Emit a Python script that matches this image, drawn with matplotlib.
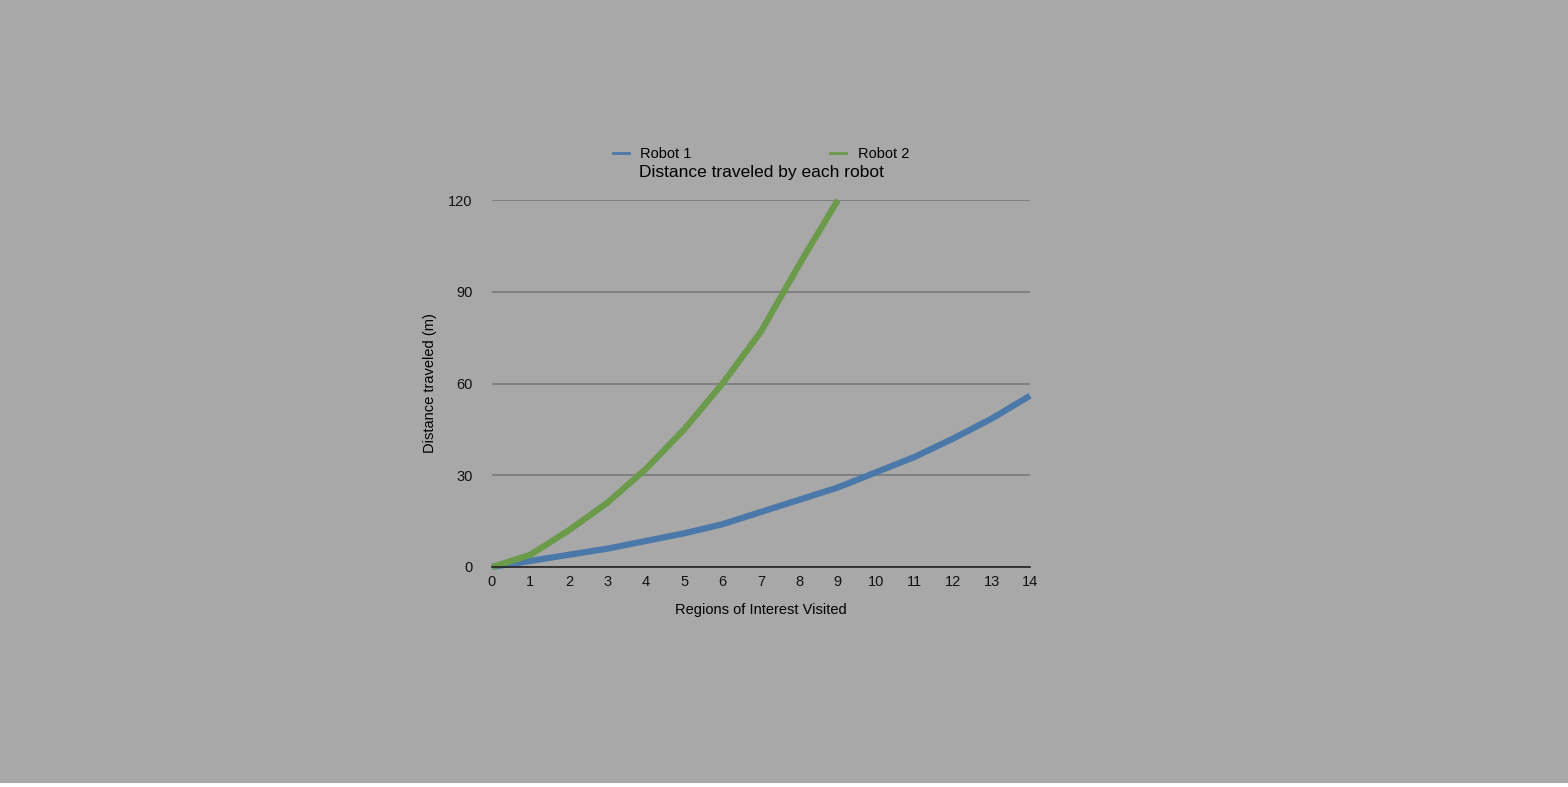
import matplotlib
matplotlib.use("Agg")
import matplotlib.pyplot as plt
from matplotlib.lines import Line2D

plt.rcParams["font.family"] = "Liberation Sans"

x1 = list(range(15))
robot1 = [0, 2, 4, 6, 8.5, 11, 14, 18, 22, 26, 31, 36, 42, 48.5, 56]
x2 = list(range(10))
robot2 = [0, 4, 12, 21, 32, 45, 60, 77, 99, 120]
yticks = [0, 30, 60, 90, 120]

W, H = 1568, 787
fig = plt.figure(figsize=(W/100, H/100), dpi=100)
fig.patch.set_facecolor("white")
bg = fig.add_axes([0, 4/H, 1, 1-4/H])
bg.set_facecolor("#a8a8a8"); bg.set_xticks([]); bg.set_yticks([])
for s in bg.spines.values(): s.set_visible(False)

ax = fig.add_axes([492/W, 1-567/H, (1030-492)/W, (567-200)/H])
ax.set_facecolor("none")
ax.set_xlim(0, 14); ax.set_ylim(0, 120)
ax.set_xticks(range(15)); ax.set_yticks(yticks)
ax.yaxis.grid(True, color="#7a7a7a", lw=1.2)
ax.set_axisbelow(True)
for s in ["top", "right", "left"]: ax.spines[s].set_visible(False)
ax.spines["bottom"].set_color("#222222"); ax.spines["bottom"].set_linewidth(1.2)
ax.tick_params(length=0, labelsize=10.5, colors="#111111")
ax.tick_params(axis="x", pad=6)
ax.tick_params(axis="y", pad=14)
ax.plot(x1, robot1, color="#4a78a8", lw=4.5, solid_capstyle="butt", clip_on=False)
ax.plot(x2, robot2, color="#6a9a4a", lw=4.5, solid_capstyle="butt", clip_on=False)
ax.set_xlabel("Regions of Interest Visited", fontsize=10.5, labelpad=10)
ax.set_ylabel("Distance traveled (m)", fontsize=10.5, labelpad=8)
fig.text(761/W, 1-173/H, "Distance traveled by each robot", fontsize=12.5, ha="center", va="center")
handles = [Line2D([], [], color="#4a78a8", lw=2), Line2D([], [], color="#6a9a4a", lw=2)]
ax.legend(handles, ["Robot 1", "Robot 2"], loc="center", bbox_to_anchor=(0.5, 1.125), ncol=2,
          frameon=False, fontsize=10.5, handlelength=1.1, columnspacing=9.5, handletextpad=0.8)
fig.savefig("out.png", dpi=100, facecolor=fig.get_facecolor())
